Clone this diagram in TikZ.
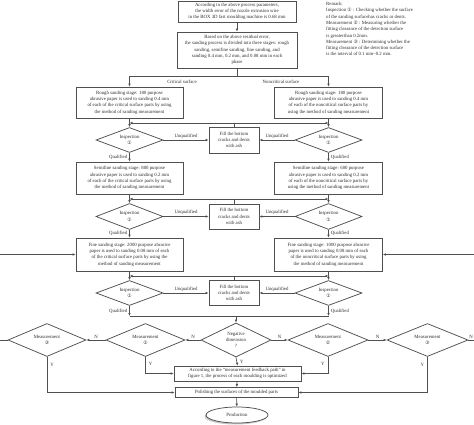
\documentclass[tikz,border=0pt]{standalone}
\usepackage{fontspec}
\setmainfont{Liberation Serif}
\newfontfamily\symfont{DejaVu Sans}
\newcommand{\circd}[1]{{\symfont #1}}
\usetikzlibrary{shapes.geometric,arrows.meta}
\definecolor{lncol}{HTML}{505050}
\definecolor{txcol}{HTML}{2E2E2E}
\begin{document}
\begin{tikzpicture}[x=1pt,y=-1pt,
  every node/.style={text=txcol,font=\fontsize{4.8}{6.3}\selectfont,inner sep=0pt},
  box/.style={draw=lncol,line width=0.75pt,align=center,fill=white},
  dia/.style={draw=lncol,line width=0.75pt,diamond,align=center,aspect=2.5,fill=white},
  arr/.style={-{Latex[length=3pt,width=2.6pt]},draw=lncol,line width=0.65pt},
  plain/.style={draw=lncol,line width=0.65pt},
  lab/.style={font=\fontsize{4.8}{5.5}\selectfont}
]
\useasboundingbox (0,0) rectangle (474,425);

% top
\node[box,minimum width=118,minimum height=21] (top) at (237,11.5) {According to the above process parameters,\\the width error of the nozzle extrusion wire\\in the BOX 3D fast moulding machine is 0.68 mm};
\node[box,minimum width=120,minimum height=36] (res) at (237,50) {Based on the above residual error,\\the sanding process is divided into three stages: rough\\sanding, semifine sanding, fine sanding, and\\sanding 0.4 mm, 0.2 mm, and 0.08 mm in each\\phase};

% remark
\node[anchor=north west,align=left] (rem) at (326,2) {Remark:\\Inspection \circd{①} : Checking whether the surface\\of the sanding surfacehas cracks or dents.\\Measurement \circd{②} : Measuring whether the\\fitting clearance of the detection surface\\is greaterthan 0.2mm.\\Measurement \circd{③} : Determining whether the\\fitting clearance of the detection surface\\is the interval of 0.1 mm--0.2 mm.};

% rough
\node[box,minimum width=107,minimum height=31] (lr) at (129.5,102.5) {Rough sanding stage: 180 purpose\\abrasive paper is used to sanding 0.4 mm\\of each of the critical surface parts by using\\the method of sanding measurement};
\node[box,minimum width=108,minimum height=31] (rr) at (328.5,102.5) {Rough sanding stage: 180 purpose\\abrasive paper is used to sanding 0.4 mm\\of each of the noncritical surface parts by\\using the method of sanding measurement};

\node[dia,minimum width=67,minimum height=25] (ld1) at (129.5,140) {Inspection\\\circd{①}};
\node[dia,minimum width=67,minimum height=25] (rd1) at (328.5,140) {Inspection\\\circd{①}};
\node[box,minimum width=50,minimum height=26] (f1) at (234,140) {Fill the bottom\\cracks and dents\\with ash};

% semifine
\node[box,minimum width=107,minimum height=32] (ls) at (129.5,178) {Semifine sanding stage: 800 purpose\\abrasive paper is used to sanding 0.2 mm\\of each of the critical surface parts by using\\the method of sanding measurement};
\node[box,minimum width=108,minimum height=32] (rs) at (328.5,178) {Semifine sanding stage: 600 purpose\\abrasive paper is used to sanding 0.2 mm\\of each of the noncritical surface parts by\\using the method of sanding measurement};

\node[dia,minimum width=67,minimum height=26] (ld2) at (129.5,216.5) {Inspection\\\circd{①}};
\node[dia,minimum width=67,minimum height=26] (rd2) at (328.5,216.5) {Inspection\\\circd{①}};
\node[box,minimum width=50,minimum height=25] (f2) at (234,216.5) {Fill the bottom\\cracks and dents\\with ash};

% fine
\node[box,minimum width=107,minimum height=33] (lf) at (129.5,254.5) {Fine sanding stage: 2000 purpose abrasive\\paper is used to sanding 0.08 mm of each\\of the critical surface parts by using the\\method of sanding measurement};
\node[box,minimum width=108,minimum height=33] (rf) at (328.5,254.5) {Fine sanding stage: 1000 purpose abrasive\\paper is used to sanding 0.08 mm of each\\of the noncritical surface parts by using\\the method of sanding measurement};

\node[dia,minimum width=67,minimum height=25] (ld3) at (129.5,293) {Inspection\\\circd{①}};
\node[dia,minimum width=67,minimum height=25] (rd3) at (328.5,293) {Inspection\\\circd{①}};
\node[box,minimum width=50,minimum height=25] (f3) at (234,293) {Fill the bottom\\cracks and dents\\with ash};

% measurement row
\node[dia,aspect=2,minimum width=70,minimum height=34] (neg) at (236,340) {Negative\\dimension\\?};
\node[dia,minimum width=79,minimum height=33] (m2L) at (145.5,340) {Measurement\\\circd{②}};
\node[dia,minimum width=78,minimum height=33] (m3L) at (47,340) {Measurement\\\circd{③}};
\node[dia,minimum width=80,minimum height=33] (m2R) at (328,340) {Measurement\\\circd{②}};
\node[dia,minimum width=81,minimum height=33] (m3R) at (427.5,340) {Measurement\\\circd{③}};

\node[box,minimum width=127,minimum height=15] (acc) at (237.5,373.5) {According to the ``measurement feedback path'' in\\figure 1, the process of each moulding is optimized};
\node[box,minimum width=123,minimum height=10] (pol) at (236.5,392.5) {Polishing the surfaces of the moulded parts};
\fill[gray!45] (235.5,416.5) ellipse (31 and 8);
\node[draw=lncol,line width=0.75pt,ellipse,fill=white,minimum width=62,minimum height=16] (prod) at (237,415) {Production};

% coordinates
\coordinate (br) at (237,76);
\coordinate (brL) at (129.5,76);
\coordinate (brR) at (328.5,76);
\coordinate (fb1) at (234,123);
\coordinate (fb1L) at (129.5,123);
\coordinate (fb1R) at (328.5,123);
\coordinate (fb2) at (234,199);
\coordinate (fb2L) at (129.5,199);
\coordinate (fb2R) at (328.5,199);
\coordinate (fb3) at (234,276);
\coordinate (fb3L) at (129.5,276);
\coordinate (fb3R) at (328.5,276);
\coordinate (mgL) at (129.5,316);
\coordinate (mgR) at (328.5,316);
\coordinate (mg) at (236,316);
\coordinate (edgeL) at (0,340);
\coordinate (edgeR) at (474,340);
\coordinate (inL) at (0,254.5);
\coordinate (inR) at (474,254.5);

% connectors
\draw[arr] (top) -- (res);
\draw[plain] (res.south) -- (br);
\draw[plain] (brL) -- (brR);
\draw[arr] (brL) -- (lr.north);
\draw[arr] (brR) -- (rr.north);
\node[lab] at (182,81.5) {Critical surface};
\node[lab] at (281,81.5) {Noncritical surface};

% stage 1
\draw[arr] (lr) -- (ld1);
\draw[arr] (rr) -- (rd1);
\draw[arr] (ld1.east) -- node[lab,above=1.5pt] {Unqualified} (f1.west);
\draw[arr] (rd1.west) -- node[lab,above=1.5pt] {Unqualified} (f1.east);
\draw[plain] (f1.north) -- (fb1);
\draw[arr] (fb1) -- (fb1L);
\draw[arr] (fb1) -- (fb1R);
\draw[arr] (ld1) -- node[lab,left=2pt,pos=0.45] {Qualified} (ls);
\draw[arr] (rd1) -- node[lab,right=2pt,pos=0.45] {Qualified} (rs);

% stage 2
\draw[arr] (ls) -- (ld2);
\draw[arr] (rs) -- (rd2);
\draw[arr] (ld2.east) -- node[lab,above=1.5pt] {Unqualified} (f2.west);
\draw[arr] (rd2.west) -- node[lab,above=1.5pt] {Unqualified} (f2.east);
\draw[plain] (f2.north) -- (fb2);
\draw[arr] (fb2) -- (fb2L);
\draw[arr] (fb2) -- (fb2R);
\draw[arr] (ld2) -- node[lab,left=2pt,pos=0.45] {Qualified} (lf);
\draw[arr] (rd2) -- node[lab,right=2pt,pos=0.45] {Qualified} (rf);
\draw[arr] (inL) -- (lf.west);
\draw[arr] (inR) -- (rf.east);

% stage 3
\draw[arr] (lf) -- (ld3);
\draw[arr] (rf) -- (rd3);
\draw[arr] (ld3.east) -- node[lab,above=1.5pt] {Unqualified} (f3.west);
\draw[arr] (rd3.west) -- node[lab,above=1.5pt] {Unqualified} (f3.east);
\draw[plain] (f3.north) -- (fb3);
\draw[arr] (fb3) -- (fb3L);
\draw[arr] (fb3) -- (fb3R);
\draw[arr] (ld3.south) -- node[lab,left=2pt] {Qualified} (mgL);
\draw[arr] (rd3.south) -- node[lab,right=2pt] {Qualified} (mgR);
\draw[plain] (mgL) -- (mgR);
\draw[arr] (mg) -- (neg.north);

% measurement row
\draw[arr] (neg.west) -- node[lab,above=1.5pt] {N} (m2L.east);
\draw[arr] (m2L.west) -- node[lab,above=1.5pt] {N} (m3L.east);
\draw[plain] (m3L.west) -- (edgeL);
\draw[arr] (neg.east) -- node[lab,above=1.5pt] {N} (m2R.west);
\draw[arr] (m2R.east) -- node[lab,above=1.5pt] {N} (m3R.west);
\draw[plain] (m3R.east) -- node[lab,above=1.5pt] {N} (edgeR);

\draw[arr] (neg.south) -- node[lab,right=3pt] {Y} (acc.north);
\draw[arr] (m2L.south) |- node[lab,right=3pt,pos=0.2] {Y} (acc.west);
\draw[arr] (m3L.south) |- node[lab,right=3pt,pos=0.12] {Y} (pol.west);
\draw[arr] (m2R.south) |- node[lab,left=3pt,pos=0.2] {Y} (acc.east);
\draw[arr] (m3R.south) |- node[lab,left=3pt,pos=0.12] {Y} (pol.east);
\draw[arr] (acc) -- (pol);
\draw[arr] (pol) -- (prod);
\end{tikzpicture}
\end{document}
